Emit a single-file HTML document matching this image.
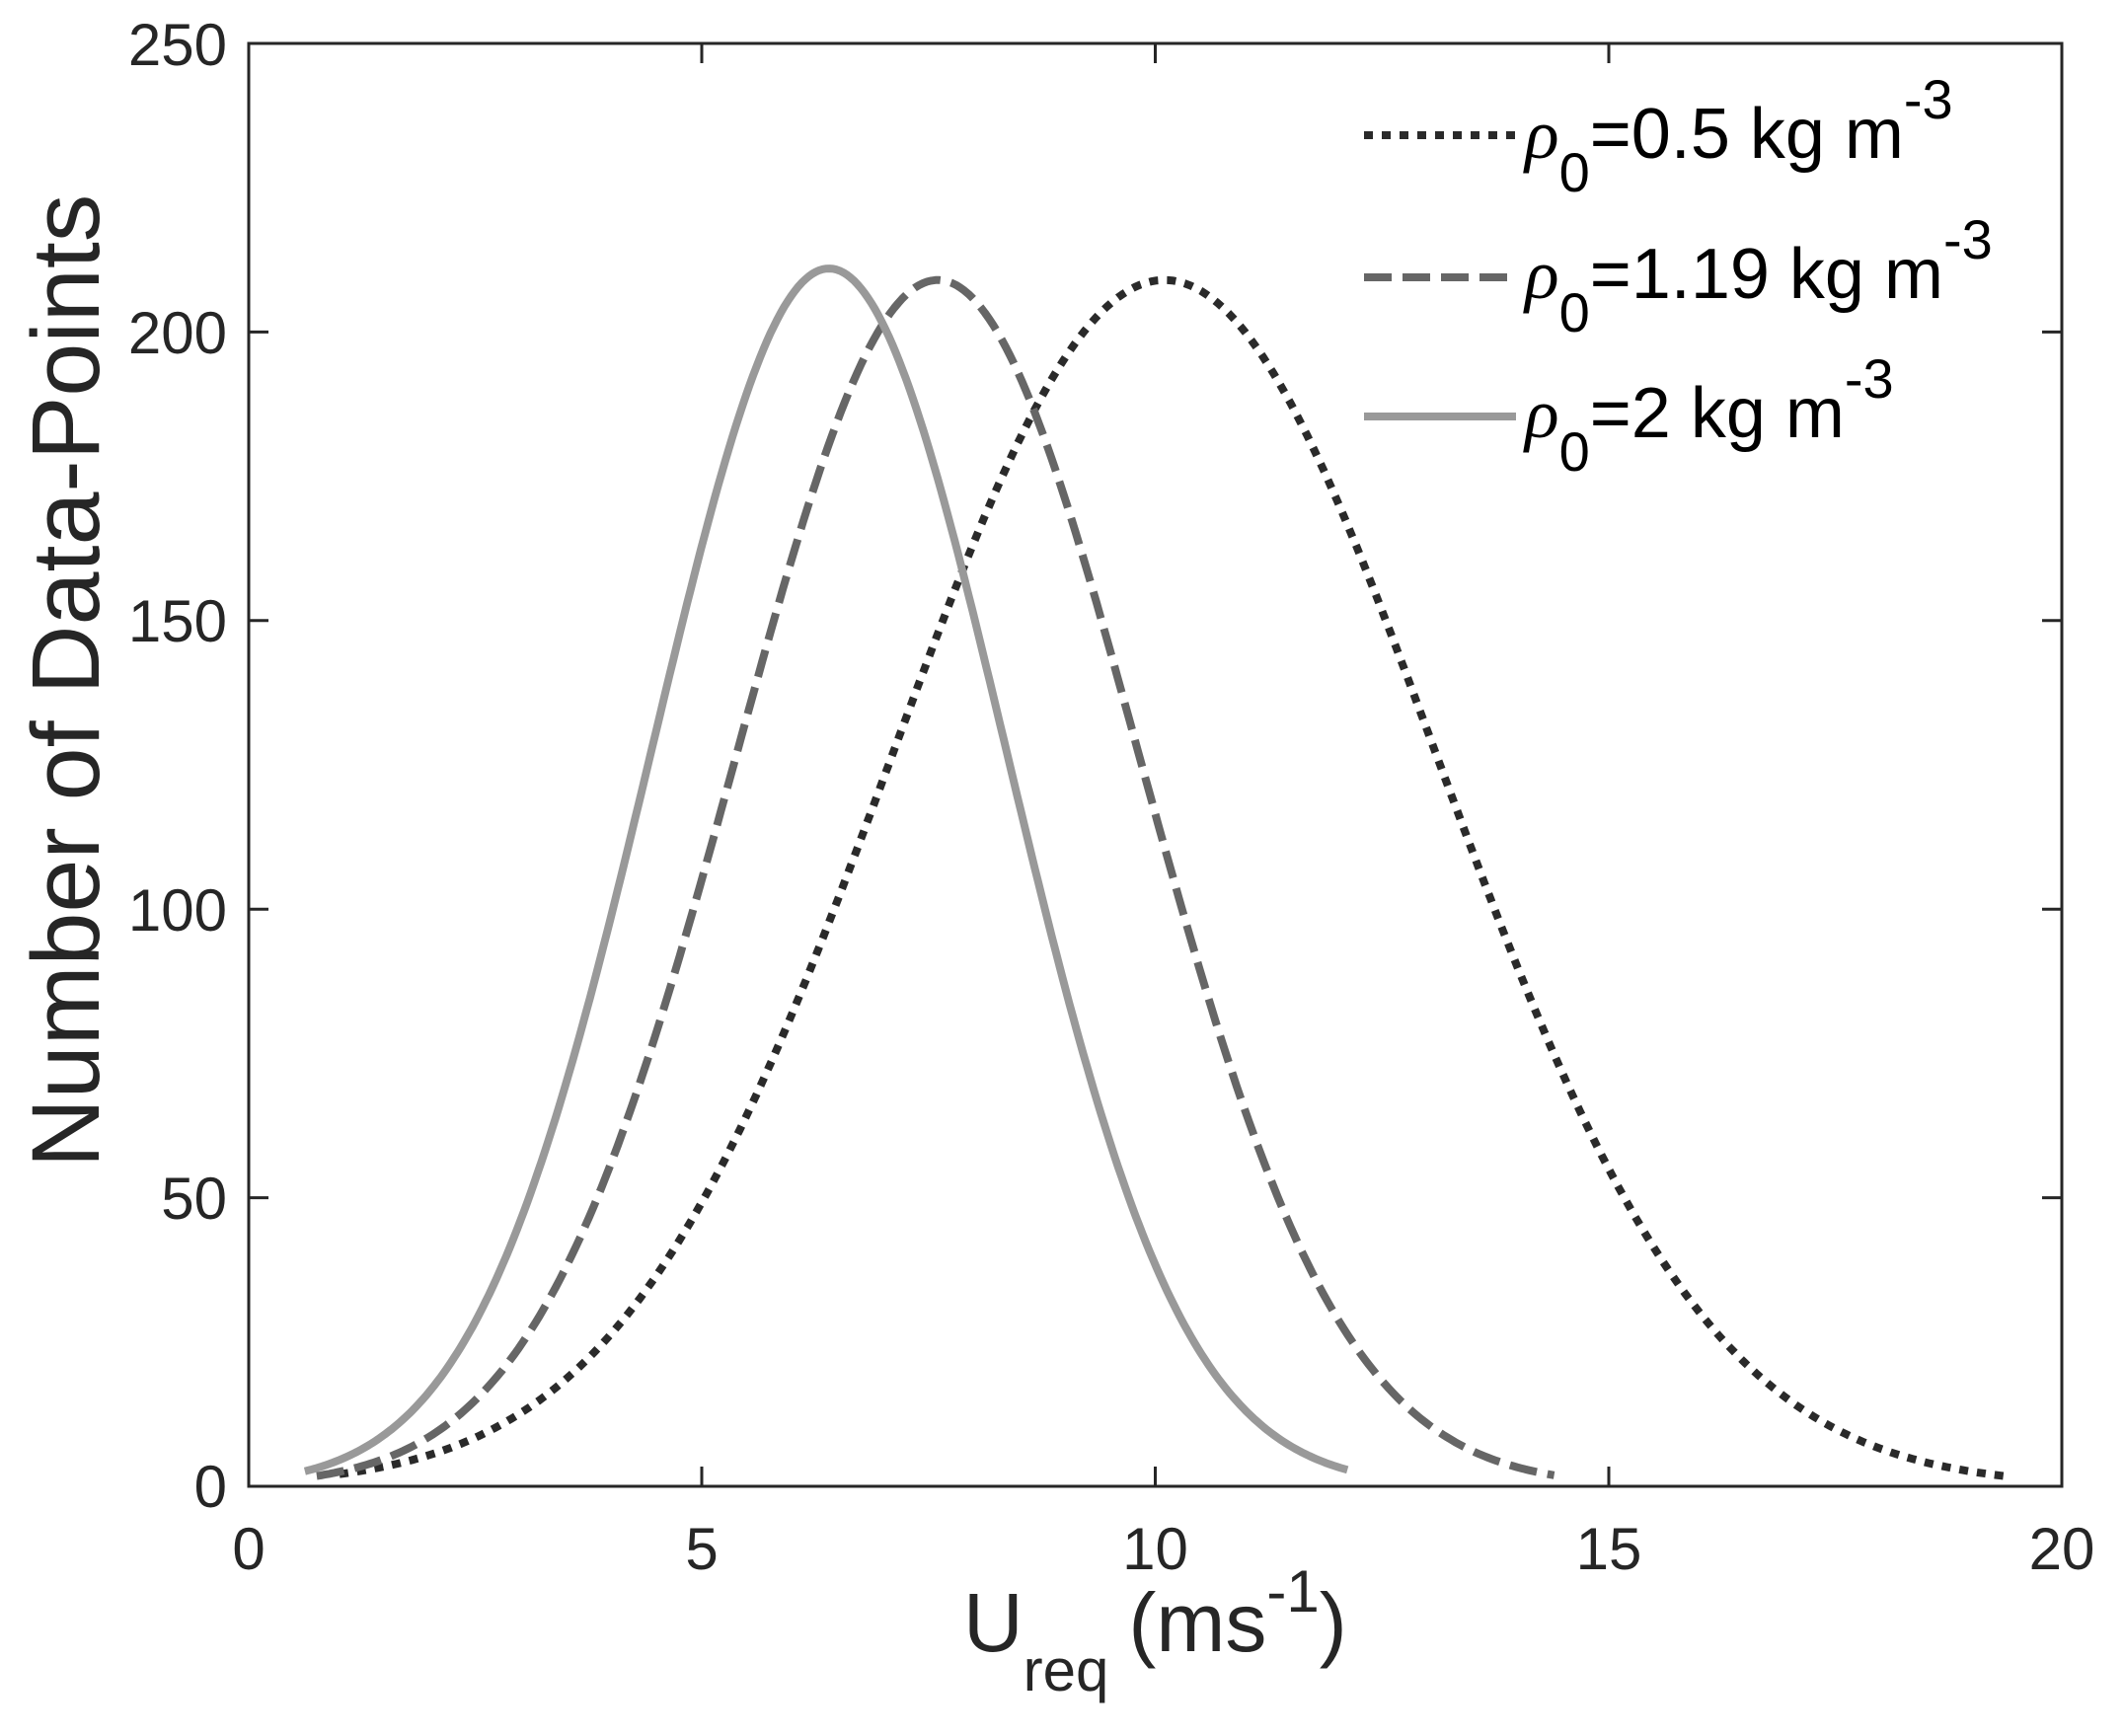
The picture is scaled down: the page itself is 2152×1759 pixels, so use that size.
<!DOCTYPE html>
<html><head><meta charset="utf-8"><style>
html,body{margin:0;padding:0;background:#fff;}
svg{display:block;font-family:"Liberation Sans",Arial,sans-serif;}
</style></head><body>
<svg id="s" width="2152" height="1759" viewBox="0 0 2152 1759" xmlns="http://www.w3.org/2000/svg">
<rect width="2152" height="1759" fill="#fff"/>
<g id="curves" fill="none" stroke-linecap="butt" stroke-linejoin="round"></g>
<g stroke="#262626" stroke-width="3" fill="none">
<rect x="252" y="44" width="1837" height="1462"/>
<path d="M711 1506v-20M1170.5 1506v-20M1630 1506v-20M711 44v20M1170.5 44v20M1630 44v20
M252 1213.6h20M252 921.2h20M252 628.8h20M252 336.4h20M2089 1213.6h-20M2089 921.2h-20M2089 628.8h-20M2089 336.4h-20"/>
</g>
<g fill="#262626" font-size="60" text-anchor="end">
<text x="230" y="1527">0</text>
<text x="230" y="1235">50</text>
<text x="230" y="943">100</text>
<text x="230" y="650">150</text>
<text x="230" y="358">200</text>
<text x="230" y="66">250</text>
</g>
<g fill="#262626" font-size="60" text-anchor="middle">
<text x="252" y="1590">0</text>
<text x="711" y="1590">5</text>
<text x="1170.5" y="1590">10</text>
<text x="1630" y="1590">15</text>
<text x="2089" y="1590">20</text>
</g>
<text transform="translate(100,690) rotate(-90)" text-anchor="middle" font-size="97" fill="#262626">Number of Data-Points</text>
<text x="976" y="1673" font-size="84" fill="#262626">U<tspan font-size="60" dy="40">req</tspan><tspan dy="-40" dx="20">(ms</tspan><tspan font-size="60" dy="-40">-1</tspan><tspan dy="40">)</tspan></text>
<g stroke-width="8">
<line x1="1382" y1="137" x2="1536" y2="137" stroke="#2a2a2a" stroke-dasharray="9 9"/>
<line x1="1382" y1="281" x2="1536" y2="281" stroke="#666" stroke-dasharray="28 11"/>
<line x1="1382" y1="422" x2="1536" y2="422" stroke="#999"/>
</g>
<g font-size="72" fill="#000">
<text x="1545" y="160"><tspan font-style="italic" font-family="Liberation Serif, serif">ρ</tspan><tspan font-size="56" dy="34">0</tspan><tspan dy="-34">=0.5 kg m</tspan><tspan font-size="56" dy="-40">-3</tspan></text>
<text x="1545" y="302"><tspan font-style="italic" font-family="Liberation Serif, serif">ρ</tspan><tspan font-size="56" dy="34">0</tspan><tspan dy="-34">=1.19 kg m</tspan><tspan font-size="56" dy="-40">-3</tspan></text>
<text x="1545" y="443"><tspan font-style="italic" font-family="Liberation Serif, serif">ρ</tspan><tspan font-size="56" dy="34">0</tspan><tspan dy="-34">=2 kg m</tspan><tspan font-size="56" dy="-40">-3</tspan></text>
</g>
</svg>
<script>
(function(){
var g=document.getElementById('curves');
function X(u){return 252+u*91.85;}
function Y(v){return 1506-v*5.848;}
function curve(mu,sig,A,a,b,stroke,dash){
 var d='';for(var i=0;i<=300;i++){var u=a+(b-a)*i/300;var v=A*Math.exp(-(u-mu)*(u-mu)/(2*sig*sig));
 d+=(i?'L':'M')+X(u).toFixed(1)+' '+Y(v).toFixed(1);}
 var p=document.createElementNS('http://www.w3.org/2000/svg','path');
 p.setAttribute('d',d);p.setAttribute('stroke',stroke);p.setAttribute('stroke-width','8');
 if(dash)p.setAttribute('stroke-dasharray',dash);g.appendChild(p);}
curve(10.1,3.0,209,1.0,19.4,'#2a2a2a','9 9');
curve(7.6,2.22,209,0.75,14.4,'#666','28 11');
curve(6.4,1.95,211,0.62,12.12,'#999',null);
})();
</script>
</body></html>
